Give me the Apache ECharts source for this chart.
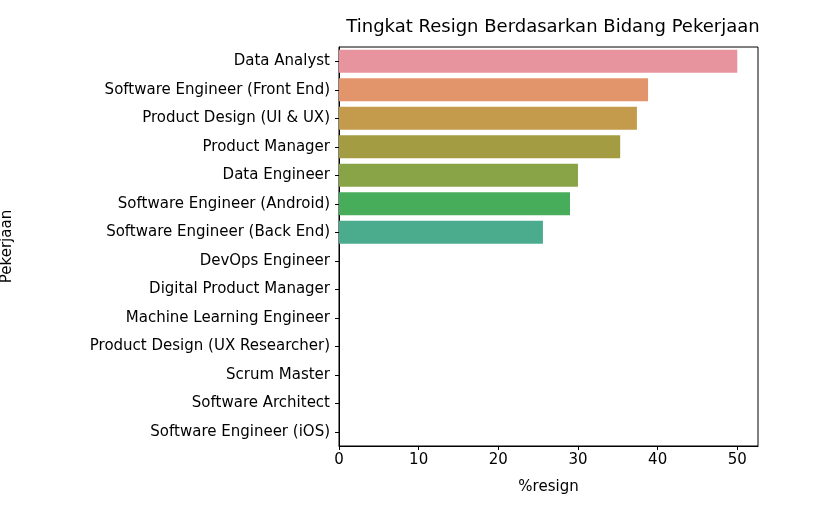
<!doctype html>
<html>
<head>
<meta charset="UTF-8">
<script src="https://cdn.jsdelivr.net/npm/echarts@6/dist/echarts.min.js"></script>
<style>body{margin:0;background:#fff}#c{width:822px;height:518px}</style>
</head>
<body>
<div id="c"></div>
<script>
var jobs = ['Data Analyst', 'Software Engineer (Front End)', 'Product Design (UI & UX)', 'Product Manager',
	'Data Engineer', 'Software Engineer (Android)', 'Software Engineer (Back End)', 'DevOps Engineer',
	'Digital Product Manager', 'Machine Learning Engineer', 'Product Design (UX Researcher)', 'Scrum Master',
	'Software Architect', 'Software Engineer (iOS)'];
var resign = [50.0, 38.8, 37.4, 35.3, 30.0, 29.0, 25.6, 0, 0, 0, 0, 0, 0, 0];
var colors = ['#e8949f', '#e2956a', '#c49a4c', '#a49c42', '#88a446', '#48ad5a', '#4aab8d',
	'#4aa9a8', '#4ca7bd', '#5aa2d6', '#8e97e0', '#b98ae0', '#db80cf', '#e58aae'];

var font = 'DejaVu Sans';
var chart = echarts.init(document.getElementById('c'));
chart.setOption({
	animation: false,
	textStyle: { fontFamily: font },
	title: {
		text: 'Tingkat Resign Berdasarkan Bidang Pekerjaan',
		left: 548, top: 13, textAlign: 'center',
		textStyle: { fontFamily: font, fontSize: 18, fontWeight: 'normal', color: '#000' }
	},
	grid: { left: 339, right: 64, top: 47, bottom: 72, outerBoundsMode: 'none', containLabel: false,
		show: true, borderColor: '#000', borderWidth: 1 },
	xAxis: {
		type: 'value', min: 0, max: 52.6, interval: 10,
		name: '%resign', nameLocation: 'middle', nameGap: 34,
		nameTextStyle: { fontSize: 15, color: '#000' },
		splitLine: { show: false },
		axisLine: { show: true, lineStyle: { color: '#000' } },
		axisTick: { show: true, length: 4, lineStyle: { color: '#000' } },
		axisLabel: { fontSize: 15, color: '#000', margin: 7, showMaxLabel: false }
	},
	yAxis: {
		type: 'category', inverse: true, data: jobs,
		name: 'Pekerjaan', nameLocation: 'middle', nameGap: 324,
		nameTextStyle: { fontSize: 15, color: '#000' },
		axisLine: { show: true, lineStyle: { color: '#000' } },
		axisTick: { show: true, alignWithLabel: true, length: 4, lineStyle: { color: '#000' } },
		axisLabel: { fontSize: 15, color: '#000', margin: 9 }
	},
	series: [{
		type: 'bar', data: resign, barCategoryGap: '20%',
		itemStyle: { color: function (p) { return colors[p.dataIndex]; } }
	}]
});
</script>
</body>
</html>
